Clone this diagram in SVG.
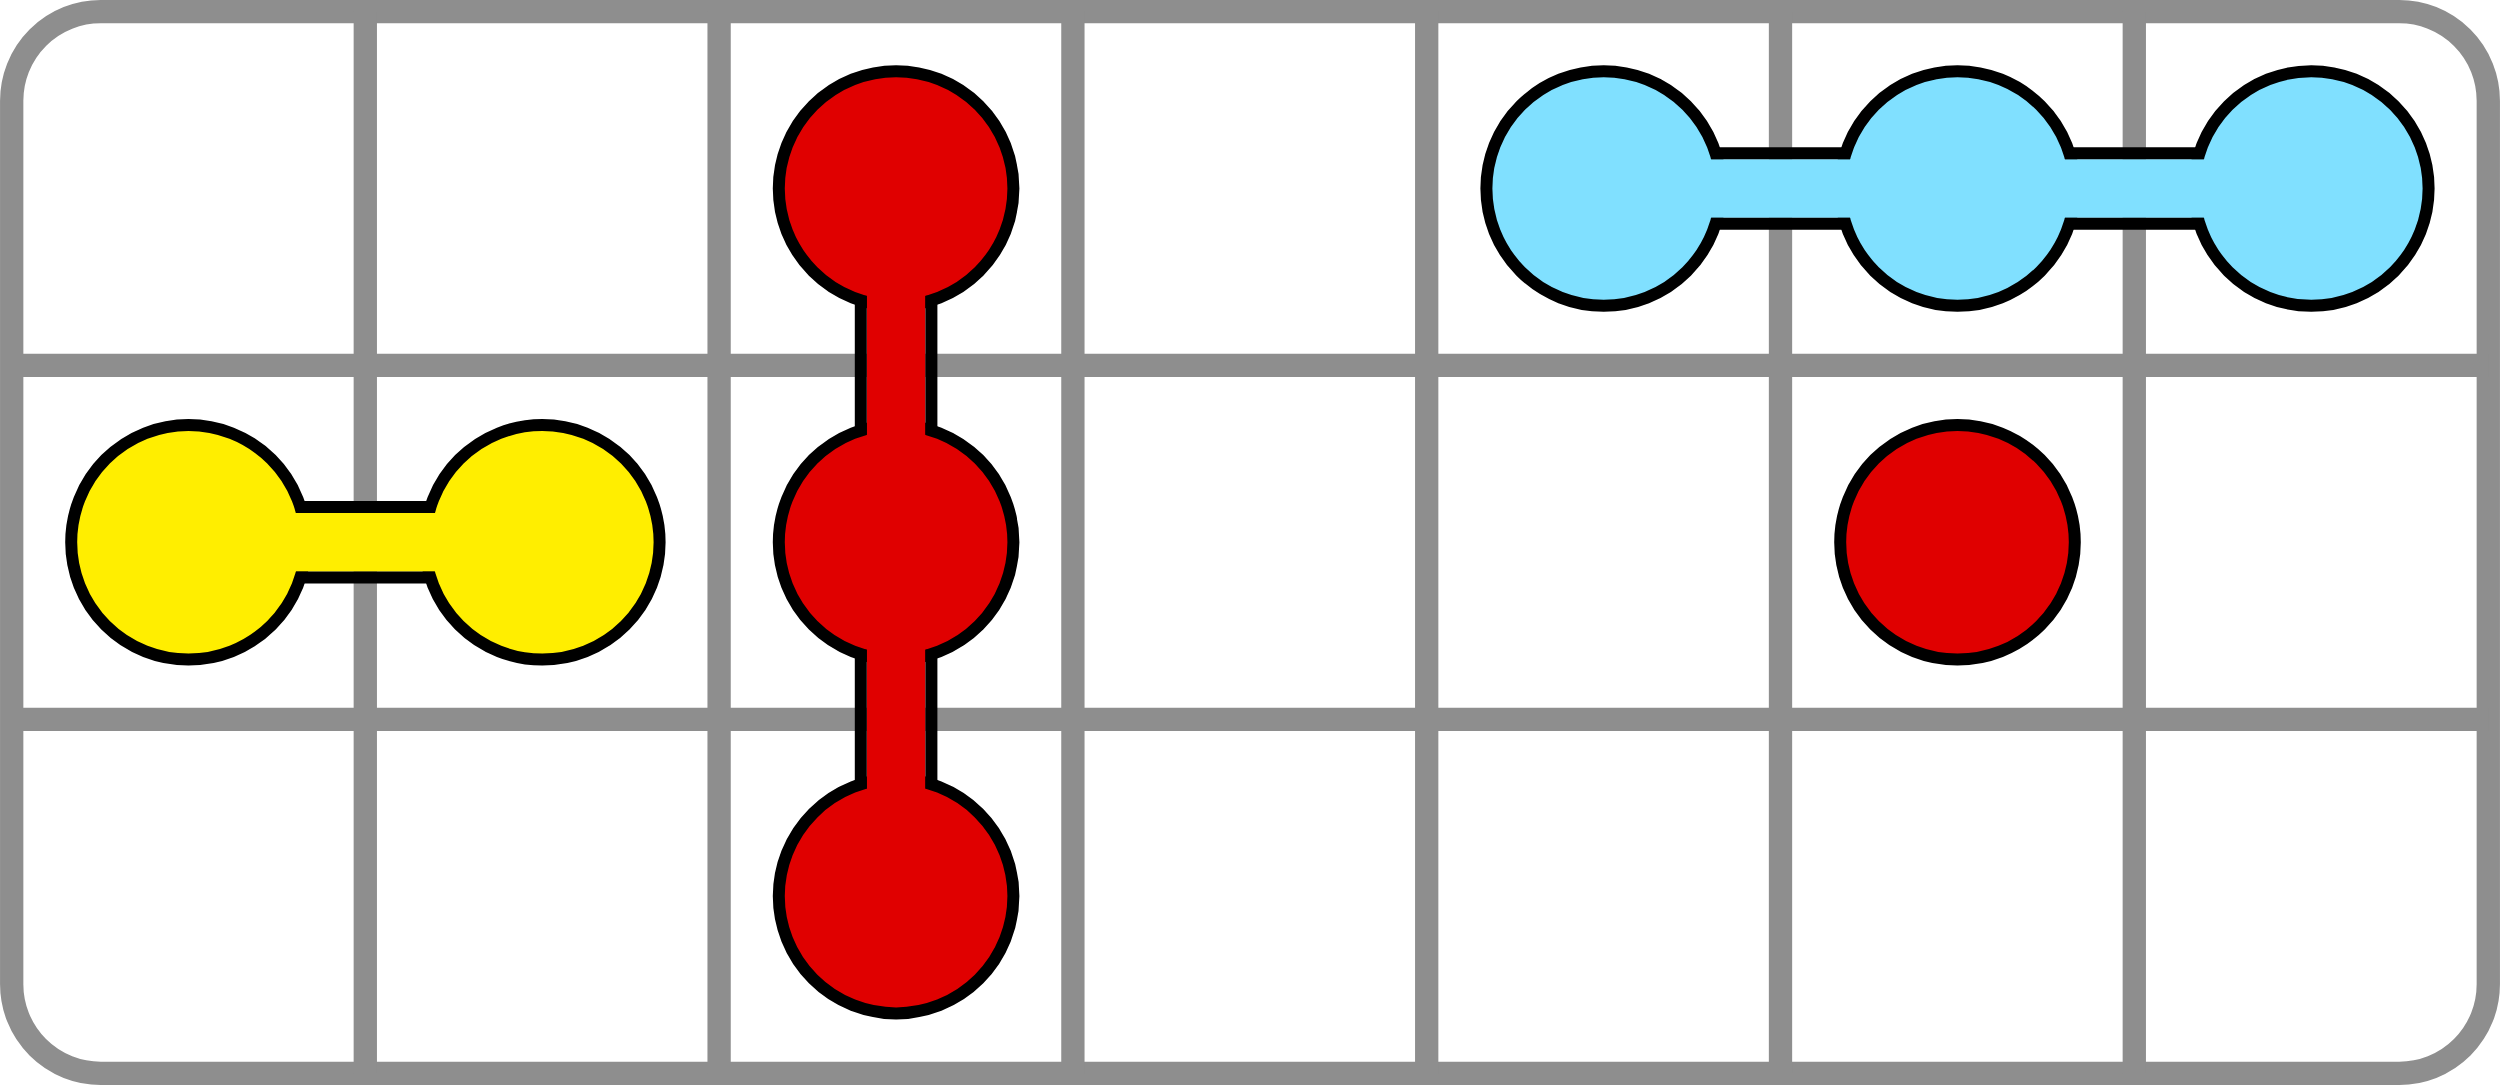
<svg xmlns="http://www.w3.org/2000/svg" width="2500" height="1085" viewBox="0 0 2500 1085">
<style>
.grid{stroke:#8e8e8e;stroke-width:23.3;fill:none}
.node{stroke:#000;stroke-width:12}
.edge{stroke:#000;stroke-width:12;stroke-linecap:butt;fill:none}
.band{stroke:none}
.y{fill:#ffee00}
.r{fill:#e00000}
.c{fill:#80e0ff}
</style>
<rect x="0" y="0" width="2500" height="1085" fill="#fff"/>
<g id="grid">
<rect class="grid" x="11.7" y="11.7" width="2476.6" height="1061.6" rx="89" ry="89"/>
<line class="grid" x1="365.3" y1="11.7" x2="365.3" y2="1073.3"/>
<line class="grid" x1="719.1" y1="11.7" x2="719.1" y2="1073.3"/>
<line class="grid" x1="1072.9" y1="11.7" x2="1072.9" y2="1073.3"/>
<line class="grid" x1="1426.7" y1="11.7" x2="1426.7" y2="1073.3"/>
<line class="grid" x1="1780.5" y1="11.7" x2="1780.5" y2="1073.3"/>
<line class="grid" x1="2134.3" y1="11.7" x2="2134.3" y2="1073.3"/>
<line class="grid" x1="11.7" y1="365.3" x2="2488.3" y2="365.3"/>
<line class="grid" x1="11.7" y1="719.3" x2="2488.3" y2="719.3"/>
</g>
<g id="y1"><circle class="node y" cx="188.5" cy="542.3" r="117.3"/></g>
<g id="y2"><circle class="node y" cx="542.3" cy="542.3" r="117.3"/></g>
<g id="r1"><circle class="node r" cx="896.1" cy="188.5" r="117.3"/></g>
<g id="r2"><circle class="node r" cx="896.1" cy="542.3" r="117.3"/></g>
<g id="r3"><circle class="node r" cx="896.1" cy="896.1" r="117.3"/></g>
<g id="c1"><circle class="node c" cx="1603.7" cy="188.5" r="117.3"/></g>
<g id="c2"><circle class="node c" cx="1957.5" cy="188.5" r="117.3"/></g>
<g id="c3"><circle class="node c" cx="2311.3" cy="188.5" r="117.3"/></g>
<g id="r4"><circle class="node r" cx="1957.5" cy="542.3" r="117.3"/></g>
<g id="connectors">
<g id="y1-y2">
<rect class="band y" x="188.5" y="513" width="353.8" height="58.6"/>
<line class="edge" x1="296" y1="507" x2="434.8" y2="507"/>
<line class="edge" x1="296" y1="577.6" x2="434.8" y2="577.6"/>
</g>
<g id="r1-r2">
<rect class="band r" x="866.8" y="188.5" width="58.6" height="353.8"/>
<line class="edge" x1="860.8" y1="296" x2="860.8" y2="434.8"/>
<line class="edge" x1="931.4" y1="296" x2="931.4" y2="434.8"/>
</g>
<g id="r2-r3">
<rect class="band r" x="866.8" y="542.3" width="58.6" height="353.8"/>
<line class="edge" x1="860.8" y1="649.8" x2="860.8" y2="788.6"/>
<line class="edge" x1="931.4" y1="649.8" x2="931.4" y2="788.6"/>
</g>
<g id="c1-c2">
<rect class="band c" x="1603.7" y="159.2" width="353.8" height="58.6"/>
<line class="edge" x1="1711.2" y1="153.2" x2="1850" y2="153.2"/>
<line class="edge" x1="1711.2" y1="223.8" x2="1850" y2="223.8"/>
</g>
<g id="c2-c3">
<rect class="band c" x="1957.5" y="159.2" width="353.8" height="58.6"/>
<line class="edge" x1="2065" y1="153.2" x2="2203.8" y2="153.2"/>
<line class="edge" x1="2065" y1="223.8" x2="2203.8" y2="223.8"/>
</g>
</g>
</svg>
